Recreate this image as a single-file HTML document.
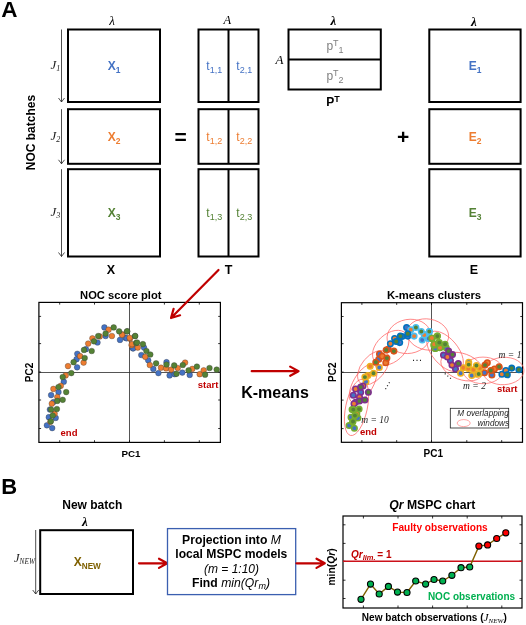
<!DOCTYPE html>
<html lang="en"><head><meta charset="utf-8"><title>MSPC K-means figure</title>
<style>
html,body{margin:0;padding:0;background:#fff;}
body{width:526px;height:625px;overflow:hidden;font-family:"Liberation Sans", Arial, sans-serif;}
svg{display:block;}
</style></head><body>
<svg width="526" height="625" viewBox="0 0 526 625">
<rect x="0" y="0" width="526" height="625" fill="#ffffff"/>
<text x="1.3" y="17.2" font-family='"Liberation Sans", Arial, sans-serif' font-size="22.5" font-weight="bold" font-style="normal" fill="#000" text-anchor="start" >A</text>
<text x="0" y="0" font-family='"Liberation Sans", Arial, sans-serif' font-size="12" font-weight="bold" font-style="normal" fill="#000" text-anchor="middle" transform="translate(35,132.6) rotate(-90)">NOC batches</text>
<rect x="68" y="29.5" width="92.00" height="72.50" fill="none" stroke="#000" stroke-width="2"/>
<rect x="68" y="109.2" width="92.00" height="54.60" fill="none" stroke="#000" stroke-width="2"/>
<rect x="68" y="169.2" width="92.00" height="87.30" fill="none" stroke="#000" stroke-width="2"/>
<text x="112" y="25" font-family='"Liberation Serif", "Times New Roman", serif' font-size="13" font-weight="normal" font-style="italic" fill="#000" text-anchor="middle" >λ</text>
<text x="114" y="69.75" font-family='"Liberation Sans", Arial, sans-serif' font-size="12" font-weight="bold" font-style="normal" fill="#4472C4" text-anchor="middle" >X<tspan font-size="8.5" dy="3">1</tspan></text>
<path d="M61.5 29.5 V102 M58.5 98 L61.5 102 L64.5 98" fill="none" stroke="#222" stroke-width="0.8"/>
<text x="55.3" y="69.05" font-family='"Liberation Serif", "Times New Roman", serif' font-size="13" font-weight="normal" font-style="italic" fill="#222" text-anchor="middle" >J<tspan font-size="8" dy="2">1</tspan></text>
<text x="114" y="140.5" font-family='"Liberation Sans", Arial, sans-serif' font-size="12" font-weight="bold" font-style="normal" fill="#ED7D31" text-anchor="middle" >X<tspan font-size="8.5" dy="3">2</tspan></text>
<path d="M61.5 109.2 V163.8 M58.5 159.8 L61.5 163.8 L64.5 159.8" fill="none" stroke="#222" stroke-width="0.8"/>
<text x="55.3" y="139.8" font-family='"Liberation Serif", "Times New Roman", serif' font-size="13" font-weight="normal" font-style="italic" fill="#222" text-anchor="middle" >J<tspan font-size="8" dy="2">2</tspan></text>
<text x="114" y="216.85" font-family='"Liberation Sans", Arial, sans-serif' font-size="12" font-weight="bold" font-style="normal" fill="#548235" text-anchor="middle" >X<tspan font-size="8.5" dy="3">3</tspan></text>
<path d="M61.5 169.2 V256.5 M58.5 252.5 L61.5 256.5 L64.5 252.5" fill="none" stroke="#222" stroke-width="0.8"/>
<text x="55.3" y="216.15" font-family='"Liberation Serif", "Times New Roman", serif' font-size="13" font-weight="normal" font-style="italic" fill="#222" text-anchor="middle" >J<tspan font-size="8" dy="2">3</tspan></text>
<text x="111" y="274.2" font-family='"Liberation Sans", Arial, sans-serif' font-size="12.5" font-weight="bold" font-style="normal" fill="#000" text-anchor="middle" >X</text>
<text x="180.7" y="143.5" font-family='"Liberation Sans", Arial, sans-serif' font-size="21" font-weight="bold" font-style="normal" fill="#000" text-anchor="middle" >=</text>
<rect x="198.5" y="29.5" width="60.00" height="72.50" fill="none" stroke="#000" stroke-width="2"/>
<line x1="228.5" y1="29.5" x2="228.5" y2="102" stroke="#000" stroke-width="2" />
<text x="214.3" y="69.75" font-family='"Liberation Sans", Arial, sans-serif' font-size="12" font-weight="normal" font-style="normal" fill="#4472C4" text-anchor="middle" >t<tspan font-size="9" dy="3">1,1</tspan></text>
<text x="244.3" y="69.75" font-family='"Liberation Sans", Arial, sans-serif' font-size="12" font-weight="normal" font-style="normal" fill="#4472C4" text-anchor="middle" >t<tspan font-size="9" dy="3">2,1</tspan></text>
<rect x="198.5" y="109.2" width="60.00" height="54.60" fill="none" stroke="#000" stroke-width="2"/>
<line x1="228.5" y1="109.2" x2="228.5" y2="163.8" stroke="#000" stroke-width="2" />
<text x="214.3" y="140.5" font-family='"Liberation Sans", Arial, sans-serif' font-size="12" font-weight="normal" font-style="normal" fill="#ED7D31" text-anchor="middle" >t<tspan font-size="9" dy="3">1,2</tspan></text>
<text x="244.3" y="140.5" font-family='"Liberation Sans", Arial, sans-serif' font-size="12" font-weight="normal" font-style="normal" fill="#ED7D31" text-anchor="middle" >t<tspan font-size="9" dy="3">2,2</tspan></text>
<rect x="198.5" y="169.2" width="60.00" height="87.30" fill="none" stroke="#000" stroke-width="2"/>
<line x1="228.5" y1="169.2" x2="228.5" y2="256.5" stroke="#000" stroke-width="2" />
<text x="214.3" y="216.85" font-family='"Liberation Sans", Arial, sans-serif' font-size="12" font-weight="normal" font-style="normal" fill="#548235" text-anchor="middle" >t<tspan font-size="9" dy="3">1,3</tspan></text>
<text x="244.3" y="216.85" font-family='"Liberation Sans", Arial, sans-serif' font-size="12" font-weight="normal" font-style="normal" fill="#548235" text-anchor="middle" >t<tspan font-size="9" dy="3">2,3</tspan></text>
<text x="227.2" y="23.5" font-family='"Liberation Serif", "Times New Roman", serif' font-size="12.5" font-weight="normal" font-style="italic" fill="#000" text-anchor="middle" >A</text>
<text x="228.5" y="274.2" font-family='"Liberation Sans", Arial, sans-serif' font-size="12.5" font-weight="bold" font-style="normal" fill="#000" text-anchor="middle" >T</text>
<rect x="288.5" y="29.5" width="92.30" height="60.00" fill="none" stroke="#000" stroke-width="2"/>
<line x1="288.5" y1="59.5" x2="380.8" y2="59.5" stroke="#000" stroke-width="2" />
<text x="333.5" y="25" font-family='"Liberation Serif", "Times New Roman", serif' font-size="13" font-weight="bold" font-style="italic" fill="#000" text-anchor="middle" >λ</text>
<text x="279.5" y="63.5" font-family='"Liberation Serif", "Times New Roman", serif' font-size="13" font-weight="normal" font-style="italic" fill="#000" text-anchor="middle" >A</text>
<text x="335" y="50" font-family='"Liberation Sans", Arial, sans-serif' font-size="12" font-weight="normal" font-style="normal" fill="#7F7F7F" text-anchor="middle" >p<tspan font-size="9" dy="-4">T</tspan><tspan font-size="9" dy="6.5">1</tspan></text>
<text x="335" y="80" font-family='"Liberation Sans", Arial, sans-serif' font-size="12" font-weight="normal" font-style="normal" fill="#7F7F7F" text-anchor="middle" >p<tspan font-size="9" dy="-4">T</tspan><tspan font-size="9" dy="6.5">2</tspan></text>
<text x="333" y="105.5" font-family='"Liberation Sans", Arial, sans-serif' font-size="12" font-weight="bold" font-style="normal" fill="#000" text-anchor="middle" >P<tspan font-size="9" dy="-4">T</tspan></text>
<text x="403.2" y="144.3" font-family='"Liberation Sans", Arial, sans-serif' font-size="21" font-weight="bold" font-style="normal" fill="#000" text-anchor="middle" >+</text>
<rect x="429.3" y="29.5" width="91.30" height="72.50" fill="none" stroke="#000" stroke-width="2"/>
<text x="475" y="69.75" font-family='"Liberation Sans", Arial, sans-serif' font-size="12" font-weight="bold" font-style="normal" fill="#4472C4" text-anchor="middle" >E<tspan font-size="8.5" dy="3">1</tspan></text>
<rect x="429.3" y="109.2" width="91.30" height="54.60" fill="none" stroke="#000" stroke-width="2"/>
<text x="475" y="140.5" font-family='"Liberation Sans", Arial, sans-serif' font-size="12" font-weight="bold" font-style="normal" fill="#ED7D31" text-anchor="middle" >E<tspan font-size="8.5" dy="3">2</tspan></text>
<rect x="429.3" y="169.2" width="91.30" height="87.30" fill="none" stroke="#000" stroke-width="2"/>
<text x="475" y="216.85" font-family='"Liberation Sans", Arial, sans-serif' font-size="12" font-weight="bold" font-style="normal" fill="#548235" text-anchor="middle" >E<tspan font-size="8.5" dy="3">3</tspan></text>
<text x="474" y="25.7" font-family='"Liberation Serif", "Times New Roman", serif' font-size="13" font-weight="bold" font-style="italic" fill="#000" text-anchor="middle" >λ</text>
<text x="474" y="274.2" font-family='"Liberation Sans", Arial, sans-serif' font-size="12.5" font-weight="bold" font-style="normal" fill="#000" text-anchor="middle" >E</text>
<rect x="38.9" y="302.4" width="181.50" height="140.00" fill="#fff" stroke="#000" stroke-width="1.2"/>
<line x1="129.5" y1="302.4" x2="129.5" y2="442.4" stroke="#2a2a2a" stroke-width="0.8" />
<line x1="38.9" y1="372.5" x2="220.4" y2="372.5" stroke="#2a2a2a" stroke-width="0.8" />
<line x1="59.7" y1="442.4" x2="59.7" y2="440.2" stroke="#000" stroke-width="0.8" />
<line x1="59.7" y1="302.4" x2="59.7" y2="304.59999999999997" stroke="#000" stroke-width="0.8" />
<line x1="94.5" y1="442.4" x2="94.5" y2="440.2" stroke="#000" stroke-width="0.8" />
<line x1="94.5" y1="302.4" x2="94.5" y2="304.59999999999997" stroke="#000" stroke-width="0.8" />
<line x1="129.5" y1="442.4" x2="129.5" y2="440.2" stroke="#000" stroke-width="0.8" />
<line x1="129.5" y1="302.4" x2="129.5" y2="304.59999999999997" stroke="#000" stroke-width="0.8" />
<line x1="164.4" y1="442.4" x2="164.4" y2="440.2" stroke="#000" stroke-width="0.8" />
<line x1="164.4" y1="302.4" x2="164.4" y2="304.59999999999997" stroke="#000" stroke-width="0.8" />
<line x1="199.3" y1="442.4" x2="199.3" y2="440.2" stroke="#000" stroke-width="0.8" />
<line x1="199.3" y1="302.4" x2="199.3" y2="304.59999999999997" stroke="#000" stroke-width="0.8" />
<line x1="38.9" y1="316.4" x2="41.1" y2="316.4" stroke="#000" stroke-width="0.8" />
<line x1="220.4" y1="316.4" x2="218.20000000000002" y2="316.4" stroke="#000" stroke-width="0.8" />
<line x1="38.9" y1="343.6" x2="41.1" y2="343.6" stroke="#000" stroke-width="0.8" />
<line x1="220.4" y1="343.6" x2="218.20000000000002" y2="343.6" stroke="#000" stroke-width="0.8" />
<line x1="38.9" y1="372" x2="41.1" y2="372" stroke="#000" stroke-width="0.8" />
<line x1="220.4" y1="372" x2="218.20000000000002" y2="372" stroke="#000" stroke-width="0.8" />
<line x1="38.9" y1="400" x2="41.1" y2="400" stroke="#000" stroke-width="0.8" />
<line x1="220.4" y1="400" x2="218.20000000000002" y2="400" stroke="#000" stroke-width="0.8" />
<line x1="38.9" y1="428.5" x2="41.1" y2="428.5" stroke="#000" stroke-width="0.8" />
<line x1="220.4" y1="428.5" x2="218.20000000000002" y2="428.5" stroke="#000" stroke-width="0.8" />
<text x="120.8" y="298.5" font-family='"Liberation Sans", Arial, sans-serif' font-size="11.2" font-weight="bold" font-style="normal" fill="#000" text-anchor="middle" >NOC score plot</text>
<text x="0" y="0" font-family='"Liberation Sans", Arial, sans-serif' font-size="10" font-weight="bold" font-style="normal" fill="#000" text-anchor="middle" transform="translate(33,372.5) rotate(-90)">PC2</text>
<text x="131" y="456.8" font-family='"Liberation Sans", Arial, sans-serif' font-size="9.8" font-weight="bold" font-style="normal" fill="#000" text-anchor="middle" >PC1</text>
<circle cx="46.9" cy="425.3" r="2.85" fill="#4472C4" stroke="#333" stroke-width="0.35"/>
<circle cx="52.2" cy="428.1" r="2.85" fill="#4472C4" stroke="#333" stroke-width="0.35"/>
<circle cx="48.8" cy="417.2" r="2.85" fill="#4472C4" stroke="#333" stroke-width="0.35"/>
<circle cx="55.7" cy="417.9" r="2.85" fill="#4472C4" stroke="#333" stroke-width="0.35"/>
<circle cx="49.9" cy="409.5" r="2.85" fill="#4472C4" stroke="#333" stroke-width="0.35"/>
<circle cx="53.4" cy="402.1" r="2.85" fill="#4472C4" stroke="#333" stroke-width="0.35"/>
<circle cx="51.1" cy="395.1" r="2.85" fill="#4472C4" stroke="#333" stroke-width="0.35"/>
<circle cx="58.5" cy="392.1" r="2.85" fill="#4472C4" stroke="#333" stroke-width="0.35"/>
<circle cx="63.8" cy="381.7" r="2.85" fill="#4472C4" stroke="#333" stroke-width="0.35"/>
<circle cx="77.1" cy="367.3" r="2.85" fill="#4472C4" stroke="#333" stroke-width="0.35"/>
<circle cx="76.6" cy="359.2" r="2.85" fill="#4472C4" stroke="#333" stroke-width="0.35"/>
<circle cx="77.3" cy="353.8" r="2.85" fill="#4472C4" stroke="#333" stroke-width="0.35"/>
<circle cx="85.9" cy="349.2" r="2.85" fill="#4472C4" stroke="#333" stroke-width="0.35"/>
<circle cx="97.5" cy="342.5" r="2.85" fill="#4472C4" stroke="#333" stroke-width="0.35"/>
<circle cx="105.6" cy="336.0" r="2.85" fill="#4472C4" stroke="#333" stroke-width="0.35"/>
<circle cx="104.4" cy="327.4" r="2.85" fill="#4472C4" stroke="#333" stroke-width="0.35"/>
<circle cx="120.0" cy="339.9" r="2.85" fill="#4472C4" stroke="#333" stroke-width="0.35"/>
<circle cx="125.3" cy="337.8" r="2.85" fill="#4472C4" stroke="#333" stroke-width="0.35"/>
<circle cx="133.0" cy="348.3" r="2.85" fill="#4472C4" stroke="#333" stroke-width="0.35"/>
<circle cx="126.6" cy="338.3" r="2.85" fill="#4472C4" stroke="#333" stroke-width="0.35"/>
<circle cx="133.1" cy="348.3" r="2.85" fill="#4472C4" stroke="#333" stroke-width="0.35"/>
<circle cx="141.3" cy="355.0" r="2.85" fill="#4472C4" stroke="#333" stroke-width="0.35"/>
<circle cx="144.0" cy="347.6" r="2.85" fill="#4472C4" stroke="#333" stroke-width="0.35"/>
<circle cx="148.2" cy="360.3" r="2.85" fill="#4472C4" stroke="#333" stroke-width="0.35"/>
<circle cx="153.3" cy="368.9" r="2.85" fill="#4472C4" stroke="#333" stroke-width="0.35"/>
<circle cx="158.4" cy="373.1" r="2.85" fill="#4472C4" stroke="#333" stroke-width="0.35"/>
<circle cx="166.5" cy="362.2" r="2.85" fill="#4472C4" stroke="#333" stroke-width="0.35"/>
<circle cx="169.6" cy="375.4" r="2.85" fill="#4472C4" stroke="#333" stroke-width="0.35"/>
<circle cx="174.7" cy="374.2" r="2.85" fill="#4472C4" stroke="#333" stroke-width="0.35"/>
<circle cx="182.3" cy="372.6" r="2.85" fill="#4472C4" stroke="#333" stroke-width="0.35"/>
<circle cx="189.7" cy="374.9" r="2.85" fill="#4472C4" stroke="#333" stroke-width="0.35"/>
<circle cx="50.4" cy="421.8" r="2.85" fill="#ED7D31" stroke="#333" stroke-width="0.35"/>
<circle cx="54.6" cy="413.7" r="2.85" fill="#ED7D31" stroke="#333" stroke-width="0.35"/>
<circle cx="51.8" cy="403.7" r="2.85" fill="#ED7D31" stroke="#333" stroke-width="0.35"/>
<circle cx="57.3" cy="397.0" r="2.85" fill="#ED7D31" stroke="#333" stroke-width="0.35"/>
<circle cx="53.4" cy="388.9" r="2.85" fill="#ED7D31" stroke="#333" stroke-width="0.35"/>
<circle cx="60.8" cy="385.8" r="2.85" fill="#ED7D31" stroke="#333" stroke-width="0.35"/>
<circle cx="65.7" cy="375.4" r="2.85" fill="#ED7D31" stroke="#333" stroke-width="0.35"/>
<circle cx="68.0" cy="366.1" r="2.85" fill="#ED7D31" stroke="#333" stroke-width="0.35"/>
<circle cx="83.6" cy="362.6" r="2.85" fill="#ED7D31" stroke="#333" stroke-width="0.35"/>
<circle cx="80.1" cy="356.1" r="2.85" fill="#ED7D31" stroke="#333" stroke-width="0.35"/>
<circle cx="88.2" cy="343.6" r="2.85" fill="#ED7D31" stroke="#333" stroke-width="0.35"/>
<circle cx="92.4" cy="338.3" r="2.85" fill="#ED7D31" stroke="#333" stroke-width="0.35"/>
<circle cx="99.8" cy="336.4" r="2.85" fill="#ED7D31" stroke="#333" stroke-width="0.35"/>
<circle cx="111.9" cy="336.0" r="2.85" fill="#ED7D31" stroke="#333" stroke-width="0.35"/>
<circle cx="108.6" cy="329.7" r="2.85" fill="#ED7D31" stroke="#333" stroke-width="0.35"/>
<circle cx="122.3" cy="334.3" r="2.85" fill="#ED7D31" stroke="#333" stroke-width="0.35"/>
<circle cx="130.0" cy="338.7" r="2.85" fill="#ED7D31" stroke="#333" stroke-width="0.35"/>
<circle cx="131.6" cy="345.2" r="2.85" fill="#ED7D31" stroke="#333" stroke-width="0.35"/>
<circle cx="122.0" cy="334.8" r="2.85" fill="#ED7D31" stroke="#333" stroke-width="0.35"/>
<circle cx="129.7" cy="337.8" r="2.85" fill="#ED7D31" stroke="#333" stroke-width="0.35"/>
<circle cx="132.0" cy="344.1" r="2.85" fill="#ED7D31" stroke="#333" stroke-width="0.35"/>
<circle cx="137.8" cy="347.6" r="2.85" fill="#ED7D31" stroke="#333" stroke-width="0.35"/>
<circle cx="145.2" cy="356.8" r="2.85" fill="#ED7D31" stroke="#333" stroke-width="0.35"/>
<circle cx="149.8" cy="365.0" r="2.85" fill="#ED7D31" stroke="#333" stroke-width="0.35"/>
<circle cx="161.0" cy="367.7" r="2.85" fill="#ED7D31" stroke="#333" stroke-width="0.35"/>
<circle cx="166.1" cy="368.4" r="2.85" fill="#ED7D31" stroke="#333" stroke-width="0.35"/>
<circle cx="171.2" cy="369.6" r="2.85" fill="#ED7D31" stroke="#333" stroke-width="0.35"/>
<circle cx="177.7" cy="368.0" r="2.85" fill="#ED7D31" stroke="#333" stroke-width="0.35"/>
<circle cx="185.1" cy="362.6" r="2.85" fill="#ED7D31" stroke="#333" stroke-width="0.35"/>
<circle cx="192.3" cy="368.9" r="2.85" fill="#ED7D31" stroke="#333" stroke-width="0.35"/>
<circle cx="199.7" cy="374.2" r="2.85" fill="#ED7D31" stroke="#333" stroke-width="0.35"/>
<circle cx="203.7" cy="370.3" r="2.85" fill="#ED7D31" stroke="#333" stroke-width="0.35"/>
<circle cx="50.8" cy="421.3" r="2.85" fill="#548235" stroke="#333" stroke-width="0.35"/>
<circle cx="52.7" cy="415.5" r="2.85" fill="#548235" stroke="#333" stroke-width="0.35"/>
<circle cx="51.1" cy="409.5" r="2.85" fill="#548235" stroke="#333" stroke-width="0.35"/>
<circle cx="56.9" cy="409.0" r="2.85" fill="#548235" stroke="#333" stroke-width="0.35"/>
<circle cx="57.3" cy="400.9" r="2.85" fill="#548235" stroke="#333" stroke-width="0.35"/>
<circle cx="62.7" cy="399.8" r="2.85" fill="#548235" stroke="#333" stroke-width="0.35"/>
<circle cx="66.2" cy="392.1" r="2.85" fill="#548235" stroke="#333" stroke-width="0.35"/>
<circle cx="58.5" cy="387.0" r="2.85" fill="#548235" stroke="#333" stroke-width="0.35"/>
<circle cx="62.7" cy="377.0" r="2.85" fill="#548235" stroke="#333" stroke-width="0.35"/>
<circle cx="71.3" cy="373.1" r="2.85" fill="#548235" stroke="#333" stroke-width="0.35"/>
<circle cx="73.6" cy="362.2" r="2.85" fill="#548235" stroke="#333" stroke-width="0.35"/>
<circle cx="84.7" cy="358.0" r="2.85" fill="#548235" stroke="#333" stroke-width="0.35"/>
<circle cx="84.0" cy="349.9" r="2.85" fill="#548235" stroke="#333" stroke-width="0.35"/>
<circle cx="91.7" cy="351.0" r="2.85" fill="#548235" stroke="#333" stroke-width="0.35"/>
<circle cx="94.0" cy="341.3" r="2.85" fill="#548235" stroke="#333" stroke-width="0.35"/>
<circle cx="98.2" cy="336.0" r="2.85" fill="#548235" stroke="#333" stroke-width="0.35"/>
<circle cx="105.6" cy="333.6" r="2.85" fill="#548235" stroke="#333" stroke-width="0.35"/>
<circle cx="113.7" cy="327.4" r="2.85" fill="#548235" stroke="#333" stroke-width="0.35"/>
<circle cx="119.1" cy="331.3" r="2.85" fill="#548235" stroke="#333" stroke-width="0.35"/>
<circle cx="127.2" cy="331.3" r="2.85" fill="#548235" stroke="#333" stroke-width="0.35"/>
<circle cx="135.1" cy="336.0" r="2.85" fill="#548235" stroke="#333" stroke-width="0.35"/>
<circle cx="136.2" cy="342.9" r="2.85" fill="#548235" stroke="#333" stroke-width="0.35"/>
<circle cx="127.1" cy="331.3" r="2.85" fill="#548235" stroke="#333" stroke-width="0.35"/>
<circle cx="135.2" cy="336.0" r="2.85" fill="#548235" stroke="#333" stroke-width="0.35"/>
<circle cx="137.1" cy="342.5" r="2.85" fill="#548235" stroke="#333" stroke-width="0.35"/>
<circle cx="142.9" cy="344.1" r="2.85" fill="#548235" stroke="#333" stroke-width="0.35"/>
<circle cx="146.4" cy="351.0" r="2.85" fill="#548235" stroke="#333" stroke-width="0.35"/>
<circle cx="150.3" cy="354.5" r="2.85" fill="#548235" stroke="#333" stroke-width="0.35"/>
<circle cx="156.1" cy="363.3" r="2.85" fill="#548235" stroke="#333" stroke-width="0.35"/>
<circle cx="166.5" cy="364.5" r="2.85" fill="#548235" stroke="#333" stroke-width="0.35"/>
<circle cx="174.2" cy="365.4" r="2.85" fill="#548235" stroke="#333" stroke-width="0.35"/>
<circle cx="176.5" cy="373.8" r="2.85" fill="#548235" stroke="#333" stroke-width="0.35"/>
<circle cx="182.8" cy="365.0" r="2.85" fill="#548235" stroke="#333" stroke-width="0.35"/>
<circle cx="188.6" cy="370.3" r="2.85" fill="#548235" stroke="#333" stroke-width="0.35"/>
<circle cx="196.9" cy="366.6" r="2.85" fill="#548235" stroke="#333" stroke-width="0.35"/>
<circle cx="205.1" cy="374.7" r="2.85" fill="#548235" stroke="#333" stroke-width="0.35"/>
<circle cx="209.5" cy="368.0" r="2.85" fill="#548235" stroke="#333" stroke-width="0.35"/>
<circle cx="216.7" cy="369.6" r="2.85" fill="#548235" stroke="#333" stroke-width="0.35"/>
<path d="M218.5 270.0 L171.0 318.0 M173.6 308.9 L171.0 318.0 L180.1 315.3" fill="none" stroke="#C00000" stroke-width="2.2" stroke-linecap="round" stroke-linejoin="round"/>
<text x="208" y="388" font-family='"Liberation Sans", Arial, sans-serif' font-size="9.5" font-weight="bold" font-style="normal" fill="#C00000" text-anchor="middle" >start</text>
<text x="69" y="436" font-family='"Liberation Sans", Arial, sans-serif' font-size="9.5" font-weight="bold" font-style="normal" fill="#C00000" text-anchor="middle" >end</text>
<path d="M251.7 371.2 L298.5 371.2 M290.2 375.8 L298.5 371.2 L290.2 366.6" fill="none" stroke="#C00000" stroke-width="2.2" stroke-linecap="round" stroke-linejoin="round"/>
<text x="275" y="398" font-family='"Liberation Sans", Arial, sans-serif' font-size="16" font-weight="bold" font-style="normal" fill="#000" text-anchor="middle" >K-means</text>
<rect x="341.4" y="302.7" width="181.10" height="139.60" fill="#fff" stroke="#000" stroke-width="1.2"/>
<line x1="431.5" y1="302.7" x2="431.5" y2="442.3" stroke="#2a2a2a" stroke-width="0.8" />
<line x1="341.4" y1="372.5" x2="522.5" y2="372.5" stroke="#2a2a2a" stroke-width="0.8" />
<line x1="361.9" y1="442.3" x2="361.9" y2="440.1" stroke="#000" stroke-width="0.8" />
<line x1="361.9" y1="302.7" x2="361.9" y2="304.9" stroke="#000" stroke-width="0.8" />
<line x1="396.7" y1="442.3" x2="396.7" y2="440.1" stroke="#000" stroke-width="0.8" />
<line x1="396.7" y1="302.7" x2="396.7" y2="304.9" stroke="#000" stroke-width="0.8" />
<line x1="431.5" y1="442.3" x2="431.5" y2="440.1" stroke="#000" stroke-width="0.8" />
<line x1="431.5" y1="302.7" x2="431.5" y2="304.9" stroke="#000" stroke-width="0.8" />
<line x1="466.79999999999995" y1="442.3" x2="466.79999999999995" y2="440.1" stroke="#000" stroke-width="0.8" />
<line x1="466.79999999999995" y1="302.7" x2="466.79999999999995" y2="304.9" stroke="#000" stroke-width="0.8" />
<line x1="501.7" y1="442.3" x2="501.7" y2="440.1" stroke="#000" stroke-width="0.8" />
<line x1="501.7" y1="302.7" x2="501.7" y2="304.9" stroke="#000" stroke-width="0.8" />
<line x1="341.4" y1="316.5" x2="343.59999999999997" y2="316.5" stroke="#000" stroke-width="0.8" />
<line x1="522.5" y1="316.5" x2="520.3" y2="316.5" stroke="#000" stroke-width="0.8" />
<line x1="341.4" y1="343.70000000000005" x2="343.59999999999997" y2="343.70000000000005" stroke="#000" stroke-width="0.8" />
<line x1="522.5" y1="343.70000000000005" x2="520.3" y2="343.70000000000005" stroke="#000" stroke-width="0.8" />
<line x1="341.4" y1="372.1" x2="343.59999999999997" y2="372.1" stroke="#000" stroke-width="0.8" />
<line x1="522.5" y1="372.1" x2="520.3" y2="372.1" stroke="#000" stroke-width="0.8" />
<line x1="341.4" y1="400.1" x2="343.59999999999997" y2="400.1" stroke="#000" stroke-width="0.8" />
<line x1="522.5" y1="400.1" x2="520.3" y2="400.1" stroke="#000" stroke-width="0.8" />
<line x1="341.4" y1="428.6" x2="343.59999999999997" y2="428.6" stroke="#000" stroke-width="0.8" />
<line x1="522.5" y1="428.6" x2="520.3" y2="428.6" stroke="#000" stroke-width="0.8" />
<text x="434" y="298.6" font-family='"Liberation Sans", Arial, sans-serif' font-size="11.3" font-weight="bold" font-style="normal" fill="#000" text-anchor="middle" >K-means clusters</text>
<text x="0" y="0" font-family='"Liberation Sans", Arial, sans-serif' font-size="10" font-weight="bold" font-style="normal" fill="#000" text-anchor="middle" transform="translate(336.3,372.2) rotate(-90)">PC2</text>
<text x="433.3" y="456.8" font-family='"Liberation Sans", Arial, sans-serif' font-size="10" font-weight="bold" font-style="normal" fill="#000" text-anchor="middle" >PC1</text>
<ellipse cx="356.5" cy="407.5" rx="28.6" ry="10.8" transform="rotate(-78 356.5 407.5)" fill="none" stroke="#FF6060" stroke-width="0.7"/>
<ellipse cx="363.2" cy="383.7" rx="21.8" ry="10" transform="rotate(-60 363.2 383.7)" fill="none" stroke="#FF6060" stroke-width="0.7"/>
<ellipse cx="373.3" cy="367.7" rx="20" ry="11.8" transform="rotate(-50 373.3 367.7)" fill="none" stroke="#FF6060" stroke-width="0.7"/>
<ellipse cx="390.7" cy="347.8" rx="21" ry="14" transform="rotate(-42 390.7 347.8)" fill="none" stroke="#FF6060" stroke-width="0.7"/>
<ellipse cx="408.8" cy="336.4" rx="21.9" ry="17" transform="rotate(-10 408.8 336.4)" fill="none" stroke="#FF6060" stroke-width="0.7"/>
<ellipse cx="427.8" cy="334.5" rx="21" ry="15.5" transform="rotate(10 427.8 334.5)" fill="none" stroke="#FF6060" stroke-width="0.7"/>
<ellipse cx="445" cy="351.4" rx="24" ry="13" transform="rotate(50 445 351.4)" fill="none" stroke="#FF6060" stroke-width="0.7"/>
<ellipse cx="462" cy="366.6" rx="22" ry="13" transform="rotate(20 462 366.6)" fill="none" stroke="#FF6060" stroke-width="0.7"/>
<ellipse cx="483" cy="370.4" rx="20" ry="13.3" transform="rotate(0 483 370.4)" fill="none" stroke="#FF6060" stroke-width="0.7"/>
<ellipse cx="503.6" cy="371" rx="20.4" ry="13.7" transform="rotate(-3 503.6 371)" fill="none" stroke="#FF6060" stroke-width="0.7"/>
<circle cx="349.1" cy="425.4" r="2.75" fill="#4472C4" stroke="#77AC30" stroke-width="1.55"/>
<circle cx="354.4" cy="428.2" r="2.75" fill="#4472C4" stroke="#77AC30" stroke-width="1.55"/>
<circle cx="351.0" cy="417.3" r="2.75" fill="#4472C4" stroke="#77AC30" stroke-width="1.55"/>
<circle cx="357.9" cy="418.0" r="2.75" fill="#4472C4" stroke="#77AC30" stroke-width="1.55"/>
<circle cx="352.1" cy="409.6" r="2.75" fill="#4472C4" stroke="#77AC30" stroke-width="1.55"/>
<circle cx="355.6" cy="402.2" r="2.75" fill="#4472C4" stroke="#7E2F8E" stroke-width="1.55"/>
<circle cx="353.3" cy="395.2" r="2.75" fill="#4472C4" stroke="#7E2F8E" stroke-width="1.55"/>
<circle cx="360.7" cy="392.2" r="2.75" fill="#4472C4" stroke="#7E2F8E" stroke-width="1.55"/>
<circle cx="366.0" cy="381.8" r="2.75" fill="#4472C4" stroke="#EDB120" stroke-width="1.55"/>
<circle cx="379.3" cy="367.4" r="2.75" fill="#4472C4" stroke="#EDB120" stroke-width="1.55"/>
<circle cx="378.8" cy="359.3" r="2.75" fill="#4472C4" stroke="#D95319" stroke-width="1.55"/>
<circle cx="379.5" cy="353.9" r="2.75" fill="#4472C4" stroke="#D95319" stroke-width="1.55"/>
<circle cx="388.1" cy="349.3" r="2.75" fill="#4472C4" stroke="#D95319" stroke-width="1.55"/>
<circle cx="399.7" cy="342.6" r="2.75" fill="#4472C4" stroke="#0072BD" stroke-width="1.55"/>
<circle cx="407.8" cy="336.1" r="2.75" fill="#4472C4" stroke="#0072BD" stroke-width="1.55"/>
<circle cx="406.6" cy="327.5" r="2.75" fill="#4472C4" stroke="#0072BD" stroke-width="1.55"/>
<circle cx="422.2" cy="340.0" r="2.75" fill="#4472C4" stroke="#4DBEEE" stroke-width="1.55"/>
<circle cx="427.5" cy="337.9" r="2.75" fill="#4472C4" stroke="#4DBEEE" stroke-width="1.55"/>
<circle cx="435.2" cy="348.4" r="2.75" fill="#4472C4" stroke="#77AC30" stroke-width="1.55"/>
<circle cx="428.8" cy="338.4" r="2.75" fill="#4472C4" stroke="#4DBEEE" stroke-width="1.55"/>
<circle cx="435.3" cy="348.4" r="2.75" fill="#4472C4" stroke="#77AC30" stroke-width="1.55"/>
<circle cx="443.5" cy="355.1" r="2.75" fill="#4472C4" stroke="#7E2F8E" stroke-width="1.55"/>
<circle cx="446.2" cy="347.7" r="2.75" fill="#4472C4" stroke="#77AC30" stroke-width="1.55"/>
<circle cx="450.4" cy="360.4" r="2.75" fill="#4472C4" stroke="#7E2F8E" stroke-width="1.55"/>
<circle cx="455.5" cy="369.0" r="2.75" fill="#4472C4" stroke="#7E2F8E" stroke-width="1.55"/>
<circle cx="460.6" cy="373.2" r="2.75" fill="#4472C4" stroke="#EDB120" stroke-width="1.55"/>
<circle cx="468.7" cy="362.3" r="2.75" fill="#4472C4" stroke="#EDB120" stroke-width="1.55"/>
<circle cx="471.8" cy="375.5" r="2.75" fill="#4472C4" stroke="#EDB120" stroke-width="1.55"/>
<circle cx="476.9" cy="374.3" r="2.75" fill="#4472C4" stroke="#EDB120" stroke-width="1.55"/>
<circle cx="484.5" cy="372.7" r="2.75" fill="#4472C4" stroke="#D95319" stroke-width="1.55"/>
<circle cx="491.9" cy="375.0" r="2.75" fill="#4472C4" stroke="#D95319" stroke-width="1.55"/>
<circle cx="352.6" cy="421.9" r="2.75" fill="#ED7D31" stroke="#77AC30" stroke-width="1.55"/>
<circle cx="356.8" cy="413.8" r="2.75" fill="#ED7D31" stroke="#77AC30" stroke-width="1.55"/>
<circle cx="354.0" cy="403.8" r="2.75" fill="#ED7D31" stroke="#7E2F8E" stroke-width="1.55"/>
<circle cx="359.5" cy="397.1" r="2.75" fill="#ED7D31" stroke="#7E2F8E" stroke-width="1.55"/>
<circle cx="355.6" cy="389.0" r="2.75" fill="#ED7D31" stroke="#7E2F8E" stroke-width="1.55"/>
<circle cx="363.0" cy="385.9" r="2.75" fill="#ED7D31" stroke="#7E2F8E" stroke-width="1.55"/>
<circle cx="367.9" cy="375.5" r="2.75" fill="#ED7D31" stroke="#EDB120" stroke-width="1.55"/>
<circle cx="370.2" cy="366.2" r="2.75" fill="#ED7D31" stroke="#EDB120" stroke-width="1.55"/>
<circle cx="385.8" cy="362.7" r="2.75" fill="#ED7D31" stroke="#D95319" stroke-width="1.55"/>
<circle cx="382.3" cy="356.2" r="2.75" fill="#ED7D31" stroke="#D95319" stroke-width="1.55"/>
<circle cx="390.4" cy="343.7" r="2.75" fill="#ED7D31" stroke="#0072BD" stroke-width="1.55"/>
<circle cx="394.6" cy="338.4" r="2.75" fill="#ED7D31" stroke="#0072BD" stroke-width="1.55"/>
<circle cx="402.0" cy="336.5" r="2.75" fill="#ED7D31" stroke="#0072BD" stroke-width="1.55"/>
<circle cx="414.1" cy="336.1" r="2.75" fill="#ED7D31" stroke="#4DBEEE" stroke-width="1.55"/>
<circle cx="410.8" cy="329.8" r="2.75" fill="#ED7D31" stroke="#4DBEEE" stroke-width="1.55"/>
<circle cx="424.5" cy="334.4" r="2.75" fill="#ED7D31" stroke="#4DBEEE" stroke-width="1.55"/>
<circle cx="432.2" cy="338.8" r="2.75" fill="#ED7D31" stroke="#77AC30" stroke-width="1.55"/>
<circle cx="433.8" cy="345.3" r="2.75" fill="#ED7D31" stroke="#77AC30" stroke-width="1.55"/>
<circle cx="424.2" cy="334.9" r="2.75" fill="#ED7D31" stroke="#4DBEEE" stroke-width="1.55"/>
<circle cx="431.9" cy="337.9" r="2.75" fill="#ED7D31" stroke="#77AC30" stroke-width="1.55"/>
<circle cx="434.2" cy="344.2" r="2.75" fill="#ED7D31" stroke="#77AC30" stroke-width="1.55"/>
<circle cx="440.0" cy="347.7" r="2.75" fill="#ED7D31" stroke="#77AC30" stroke-width="1.55"/>
<circle cx="447.4" cy="356.9" r="2.75" fill="#ED7D31" stroke="#7E2F8E" stroke-width="1.55"/>
<circle cx="452.0" cy="365.1" r="2.75" fill="#ED7D31" stroke="#7E2F8E" stroke-width="1.55"/>
<circle cx="463.2" cy="367.8" r="2.75" fill="#ED7D31" stroke="#EDB120" stroke-width="1.55"/>
<circle cx="468.3" cy="368.5" r="2.75" fill="#ED7D31" stroke="#EDB120" stroke-width="1.55"/>
<circle cx="473.4" cy="369.7" r="2.75" fill="#ED7D31" stroke="#EDB120" stroke-width="1.55"/>
<circle cx="479.9" cy="368.1" r="2.75" fill="#ED7D31" stroke="#EDB120" stroke-width="1.55"/>
<circle cx="487.3" cy="362.7" r="2.75" fill="#ED7D31" stroke="#D95319" stroke-width="1.55"/>
<circle cx="494.5" cy="369.0" r="2.75" fill="#ED7D31" stroke="#D95319" stroke-width="1.55"/>
<circle cx="501.9" cy="374.3" r="2.75" fill="#ED7D31" stroke="#0072BD" stroke-width="1.55"/>
<circle cx="505.9" cy="370.4" r="2.75" fill="#ED7D31" stroke="#0072BD" stroke-width="1.55"/>
<circle cx="353.0" cy="421.4" r="2.75" fill="#548235" stroke="#77AC30" stroke-width="1.55"/>
<circle cx="354.9" cy="415.6" r="2.75" fill="#548235" stroke="#77AC30" stroke-width="1.55"/>
<circle cx="353.3" cy="409.6" r="2.75" fill="#548235" stroke="#77AC30" stroke-width="1.55"/>
<circle cx="359.1" cy="409.1" r="2.75" fill="#548235" stroke="#77AC30" stroke-width="1.55"/>
<circle cx="359.5" cy="401.0" r="2.75" fill="#548235" stroke="#7E2F8E" stroke-width="1.55"/>
<circle cx="364.9" cy="399.9" r="2.75" fill="#548235" stroke="#7E2F8E" stroke-width="1.55"/>
<circle cx="368.4" cy="392.2" r="2.75" fill="#548235" stroke="#7E2F8E" stroke-width="1.55"/>
<circle cx="360.7" cy="387.1" r="2.75" fill="#548235" stroke="#7E2F8E" stroke-width="1.55"/>
<circle cx="364.9" cy="377.1" r="2.75" fill="#548235" stroke="#EDB120" stroke-width="1.55"/>
<circle cx="373.5" cy="373.2" r="2.75" fill="#548235" stroke="#EDB120" stroke-width="1.55"/>
<circle cx="375.8" cy="362.3" r="2.75" fill="#548235" stroke="#D95319" stroke-width="1.55"/>
<circle cx="386.9" cy="358.1" r="2.75" fill="#548235" stroke="#D95319" stroke-width="1.55"/>
<circle cx="386.2" cy="350.0" r="2.75" fill="#548235" stroke="#D95319" stroke-width="1.55"/>
<circle cx="393.9" cy="351.1" r="2.75" fill="#548235" stroke="#D95319" stroke-width="1.55"/>
<circle cx="396.2" cy="341.4" r="2.75" fill="#548235" stroke="#0072BD" stroke-width="1.55"/>
<circle cx="400.4" cy="336.1" r="2.75" fill="#548235" stroke="#0072BD" stroke-width="1.55"/>
<circle cx="407.8" cy="333.7" r="2.75" fill="#548235" stroke="#0072BD" stroke-width="1.55"/>
<circle cx="415.9" cy="327.5" r="2.75" fill="#548235" stroke="#4DBEEE" stroke-width="1.55"/>
<circle cx="421.3" cy="331.4" r="2.75" fill="#548235" stroke="#4DBEEE" stroke-width="1.55"/>
<circle cx="429.4" cy="331.4" r="2.75" fill="#548235" stroke="#4DBEEE" stroke-width="1.55"/>
<circle cx="437.3" cy="336.1" r="2.75" fill="#548235" stroke="#77AC30" stroke-width="1.55"/>
<circle cx="438.4" cy="343.0" r="2.75" fill="#548235" stroke="#77AC30" stroke-width="1.55"/>
<circle cx="429.3" cy="331.4" r="2.75" fill="#548235" stroke="#4DBEEE" stroke-width="1.55"/>
<circle cx="437.4" cy="336.1" r="2.75" fill="#548235" stroke="#77AC30" stroke-width="1.55"/>
<circle cx="439.3" cy="342.6" r="2.75" fill="#548235" stroke="#77AC30" stroke-width="1.55"/>
<circle cx="445.1" cy="344.2" r="2.75" fill="#548235" stroke="#77AC30" stroke-width="1.55"/>
<circle cx="448.6" cy="351.1" r="2.75" fill="#548235" stroke="#7E2F8E" stroke-width="1.55"/>
<circle cx="452.5" cy="354.6" r="2.75" fill="#548235" stroke="#7E2F8E" stroke-width="1.55"/>
<circle cx="458.3" cy="363.4" r="2.75" fill="#548235" stroke="#7E2F8E" stroke-width="1.55"/>
<circle cx="468.7" cy="364.6" r="2.75" fill="#548235" stroke="#EDB120" stroke-width="1.55"/>
<circle cx="476.4" cy="365.5" r="2.75" fill="#548235" stroke="#EDB120" stroke-width="1.55"/>
<circle cx="478.7" cy="373.9" r="2.75" fill="#548235" stroke="#EDB120" stroke-width="1.55"/>
<circle cx="485.0" cy="365.1" r="2.75" fill="#548235" stroke="#D95319" stroke-width="1.55"/>
<circle cx="490.8" cy="370.4" r="2.75" fill="#548235" stroke="#D95319" stroke-width="1.55"/>
<circle cx="499.1" cy="366.7" r="2.75" fill="#548235" stroke="#D95319" stroke-width="1.55"/>
<circle cx="507.3" cy="374.8" r="2.75" fill="#548235" stroke="#0072BD" stroke-width="1.55"/>
<circle cx="511.7" cy="368.1" r="2.75" fill="#548235" stroke="#0072BD" stroke-width="1.55"/>
<circle cx="518.9" cy="369.7" r="2.75" fill="#548235" stroke="#0072BD" stroke-width="1.55"/>
<text x="517.5" y="392.2" font-family='"Liberation Sans", Arial, sans-serif' font-size="9.5" font-weight="bold" font-style="normal" fill="#C00000" text-anchor="end" >start</text>
<text x="360" y="435.2" font-family='"Liberation Sans", Arial, sans-serif' font-size="9.5" font-weight="bold" font-style="normal" fill="#C00000" text-anchor="start" >end</text>
<text x="510" y="358" font-family='"Liberation Serif", "Times New Roman", serif' font-size="9.5" font-weight="normal" font-style="italic" fill="#222" text-anchor="middle" >m = 1</text>
<text x="474.5" y="388.5" font-family='"Liberation Serif", "Times New Roman", serif' font-size="9.5" font-weight="normal" font-style="italic" fill="#222" text-anchor="middle" >m = 2</text>
<text x="375" y="422.8" font-family='"Liberation Serif", "Times New Roman", serif' font-size="9.5" font-weight="normal" font-style="italic" fill="#222" text-anchor="middle" >m = 10</text>
<text x="417" y="360.5" font-family='"Liberation Sans", Arial, sans-serif' font-size="11" font-weight="normal" font-style="normal" fill="#222" text-anchor="middle" >…</text>
<text x="0" y="0" font-family='"Liberation Sans", Arial, sans-serif' font-size="11" font-weight="normal" font-style="normal" fill="#222" text-anchor="middle" transform="translate(388,386) rotate(-60)">…</text>
<text x="0" y="0" font-family='"Liberation Sans", Arial, sans-serif' font-size="11" font-weight="normal" font-style="normal" fill="#222" text-anchor="middle" transform="translate(447.5,376.5) rotate(40)">…</text>
<rect x="450.3" y="408.3" width="58.40" height="19.70" fill="#fff" stroke="#222" stroke-width="0.8"/>
<text x="483" y="416.4" font-family='"Liberation Sans", Arial, sans-serif' font-size="8.2" font-weight="normal" font-style="italic" fill="#222" text-anchor="middle" >M overlapping</text>
<text x="493.3" y="425.8" font-family='"Liberation Sans", Arial, sans-serif' font-size="8.2" font-weight="normal" font-style="italic" fill="#222" text-anchor="middle" >windows</text>
<ellipse cx="463.7" cy="423.1" rx="6.5" ry="3.5" fill="none" stroke="#FF6B6B" stroke-width="0.6"/>
<text x="1.2" y="494" font-family='"Liberation Sans", Arial, sans-serif' font-size="22" font-weight="bold" font-style="normal" fill="#000" text-anchor="start" >B</text>
<text x="92.3" y="509" font-family='"Liberation Sans", Arial, sans-serif' font-size="12" font-weight="bold" font-style="normal" fill="#000" text-anchor="middle" >New batch</text>
<text x="85" y="526" font-family='"Liberation Serif", "Times New Roman", serif' font-size="13" font-weight="bold" font-style="italic" fill="#000" text-anchor="middle" >λ</text>
<rect x="40.2" y="530.2" width="92.80" height="63.80" fill="none" stroke="#000" stroke-width="2"/>
<path d="M35.7 530 V594 M32.7 590 L35.7 594 L38.7 590" fill="none" stroke="#222" stroke-width="0.8"/>
<text x="24.5" y="561.5" font-family='"Liberation Serif", "Times New Roman", serif' font-size="12.5" font-weight="normal" font-style="italic" fill="#222" text-anchor="middle" >J<tspan font-size="7.3" dy="2">NEW</tspan></text>
<text x="87.3" y="566.2" font-family='"Liberation Sans", Arial, sans-serif' font-size="12" font-weight="bold" font-style="normal" fill="#7F6000" text-anchor="middle" >X<tspan font-size="8.2" dy="2.5">NEW</tspan></text>
<path d="M139.0 563.3 L167.3 563.3 M159.0 567.9 L167.3 563.3 L159.0 558.7" fill="none" stroke="#C00000" stroke-width="2.2" stroke-linecap="round" stroke-linejoin="round"/>
<rect x="167.5" y="528.6" width="128.20" height="66.00" fill="#fff" stroke="#3B5FB0" stroke-width="1.3"/>
<text x="231.5" y="544" font-family='"Liberation Sans", Arial, sans-serif' font-size="12.2" font-weight="bold" font-style="normal" fill="#000" text-anchor="middle" >Projection into <tspan font-weight="normal" font-style="italic">M</tspan></text>
<text x="231.3" y="558" font-family='"Liberation Sans", Arial, sans-serif' font-size="12.15" font-weight="bold" font-style="normal" fill="#000" text-anchor="middle" >local MSPC models</text>
<text x="231.5" y="572.5" font-family='"Liberation Sans", Arial, sans-serif' font-size="12" font-weight="normal" font-style="italic" fill="#000" text-anchor="middle" >(m = 1:10)</text>
<text x="231" y="587" font-family='"Liberation Sans", Arial, sans-serif' font-size="12.2" font-weight="bold" font-style="normal" fill="#000" text-anchor="middle" >Find <tspan font-weight="normal" font-style="italic">min(Qr<tspan font-size="9" dy="2">m</tspan><tspan dy="-2">)</tspan></tspan></text>
<path d="M296.5 563.3 L324.8 563.3 M316.5 567.9 L324.8 563.3 L316.5 558.7" fill="none" stroke="#C00000" stroke-width="2.2" stroke-linecap="round" stroke-linejoin="round"/>
<rect x="343" y="516" width="179.00" height="92.00" fill="#fff" stroke="#000" stroke-width="1.2"/>
<line x1="343" y1="524.8" x2="345.5" y2="524.8" stroke="#000" stroke-width="0.8" />
<line x1="522" y1="524.8" x2="519.5" y2="524.8" stroke="#000" stroke-width="0.8" />
<line x1="343" y1="543.4" x2="345.5" y2="543.4" stroke="#000" stroke-width="0.8" />
<line x1="522" y1="543.4" x2="519.5" y2="543.4" stroke="#000" stroke-width="0.8" />
<line x1="343" y1="561.2" x2="345.5" y2="561.2" stroke="#000" stroke-width="0.8" />
<line x1="522" y1="561.2" x2="519.5" y2="561.2" stroke="#000" stroke-width="0.8" />
<line x1="343" y1="580.2" x2="345.5" y2="580.2" stroke="#000" stroke-width="0.8" />
<line x1="522" y1="580.2" x2="519.5" y2="580.2" stroke="#000" stroke-width="0.8" />
<line x1="343" y1="598.5" x2="345.5" y2="598.5" stroke="#000" stroke-width="0.8" />
<line x1="522" y1="598.5" x2="519.5" y2="598.5" stroke="#000" stroke-width="0.8" />
<line x1="363.4" y1="608" x2="363.4" y2="605.5" stroke="#000" stroke-width="0.8" />
<line x1="363.4" y1="516" x2="363.4" y2="518.5" stroke="#000" stroke-width="0.8" />
<line x1="398" y1="608" x2="398" y2="605.5" stroke="#000" stroke-width="0.8" />
<line x1="398" y1="516" x2="398" y2="518.5" stroke="#000" stroke-width="0.8" />
<line x1="432.6" y1="608" x2="432.6" y2="605.5" stroke="#000" stroke-width="0.8" />
<line x1="432.6" y1="516" x2="432.6" y2="518.5" stroke="#000" stroke-width="0.8" />
<line x1="467.2" y1="608" x2="467.2" y2="605.5" stroke="#000" stroke-width="0.8" />
<line x1="467.2" y1="516" x2="467.2" y2="518.5" stroke="#000" stroke-width="0.8" />
<line x1="501.8" y1="608" x2="501.8" y2="605.5" stroke="#000" stroke-width="0.8" />
<line x1="501.8" y1="516" x2="501.8" y2="518.5" stroke="#000" stroke-width="0.8" />
<text x="432.3" y="509.2" font-family='"Liberation Sans", Arial, sans-serif' font-size="12.2" font-weight="bold" font-style="normal" fill="#000" text-anchor="middle" ><tspan font-style="italic">Qr</tspan> MSPC chart</text>
<text x="0" y="0" font-family='"Liberation Sans", Arial, sans-serif' font-size="10.3" font-weight="bold" font-style="normal" fill="#000" text-anchor="middle" transform="translate(335.4,567) rotate(-90)">min(<tspan font-style="italic">Qr</tspan>)</text>
<text x="434.3" y="621.3" font-family='"Liberation Sans", Arial, sans-serif' font-size="10.05" font-weight="bold" font-style="normal" fill="#000" text-anchor="middle" >New batch observations (<tspan font-style="italic" font-weight="normal" font-family='"Liberation Serif", serif' font-size="11.3">J<tspan font-size="7" dy="1.5">NEW</tspan></tspan><tspan dy="-1.5">)</tspan></text>
<line x1="343" y1="561.2" x2="522" y2="561.2" stroke="#CC101A" stroke-width="1.6" />
<polyline points="361,599.3 370.5,584.1 379.2,594 388.4,586.4 397.5,592.1 407,592.5 415.7,581 425.6,584.1 434,579.5 442.7,581 451.9,575.3 461,567.7 469.7,567 478.9,546.1 487.6,544.9 496.7,538.5 505.8,532.8" fill="none" stroke="#7F6000" stroke-width="1.4"/>
<circle cx="361" cy="599.3" r="3.05" fill="#00B050" stroke="#000" stroke-width="1.1"/>
<circle cx="370.5" cy="584.1" r="3.05" fill="#00B050" stroke="#000" stroke-width="1.1"/>
<circle cx="379.2" cy="594" r="3.05" fill="#00B050" stroke="#000" stroke-width="1.1"/>
<circle cx="388.4" cy="586.4" r="3.05" fill="#00B050" stroke="#000" stroke-width="1.1"/>
<circle cx="397.5" cy="592.1" r="3.05" fill="#00B050" stroke="#000" stroke-width="1.1"/>
<circle cx="407" cy="592.5" r="3.05" fill="#00B050" stroke="#000" stroke-width="1.1"/>
<circle cx="415.7" cy="581" r="3.05" fill="#00B050" stroke="#000" stroke-width="1.1"/>
<circle cx="425.6" cy="584.1" r="3.05" fill="#00B050" stroke="#000" stroke-width="1.1"/>
<circle cx="434" cy="579.5" r="3.05" fill="#00B050" stroke="#000" stroke-width="1.1"/>
<circle cx="442.7" cy="581" r="3.05" fill="#00B050" stroke="#000" stroke-width="1.1"/>
<circle cx="451.9" cy="575.3" r="3.05" fill="#00B050" stroke="#000" stroke-width="1.1"/>
<circle cx="461" cy="567.7" r="3.05" fill="#00B050" stroke="#000" stroke-width="1.1"/>
<circle cx="469.7" cy="567" r="3.05" fill="#00B050" stroke="#000" stroke-width="1.1"/>
<circle cx="478.9" cy="546.1" r="3.05" fill="#FF0000" stroke="#000" stroke-width="1.1"/>
<circle cx="487.6" cy="544.9" r="3.05" fill="#FF0000" stroke="#000" stroke-width="1.1"/>
<circle cx="496.7" cy="538.5" r="3.05" fill="#FF0000" stroke="#000" stroke-width="1.1"/>
<circle cx="505.8" cy="532.8" r="3.05" fill="#FF0000" stroke="#000" stroke-width="1.1"/>
<text x="440" y="530.5" font-family='"Liberation Sans", Arial, sans-serif' font-size="10.1" font-weight="bold" font-style="normal" fill="#FF0000" text-anchor="middle" >Faulty observations</text>
<text x="471.5" y="600" font-family='"Liberation Sans", Arial, sans-serif' font-size="10" font-weight="bold" font-style="normal" fill="#00B050" text-anchor="middle" >NOC observations</text>
<text x="351" y="558.3" font-family='"Liberation Sans", Arial, sans-serif' font-size="10" font-weight="bold" font-style="normal" fill="#C00000" text-anchor="start" ><tspan font-style="italic">Qr<tspan font-size="7.5" dy="2">lim.</tspan></tspan><tspan dy="-2" dx="-1"> = 1</tspan></text>
</svg>
</body></html>
